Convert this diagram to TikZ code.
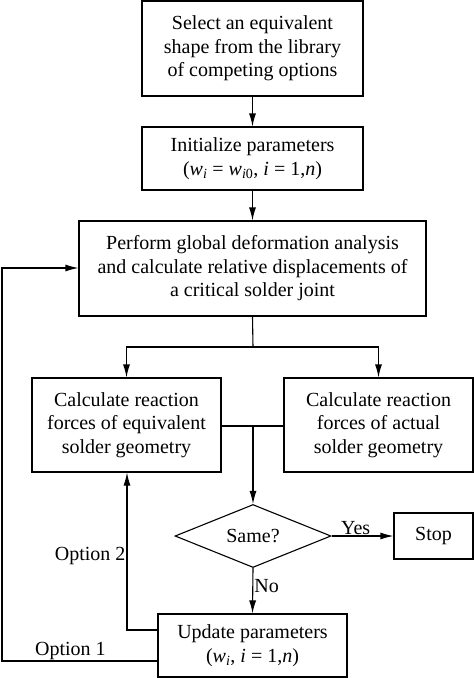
\documentclass[tikz,border=0pt]{standalone}
\usepackage{fontspec}
\setmainfont{Liberation Serif}
\usetikzlibrary{shapes.geometric,arrows.meta}
\newcommand{\vw}[1]{\textit{#1}}
\newcommand{\vsub}[1]{\textsubscript{#1}}
\begin{document}
\begin{tikzpicture}[x=1pt,y=-1pt,
  every node/.style={font=\fontsize{20}{23.5}\selectfont},
  box/.style={draw,line width=1.1pt,align=center,inner sep=0pt},
  conn/.style={line width=1.1pt},
  arr/.style={conn,-{Latex[length=13pt,width=7pt]}},
  lbl/.style={inner sep=1pt}]
\useasboundingbox (0,0) rectangle (474,678);
\node[box,minimum width=221,minimum height=95] (sel) at (252.5,48.5)
  {Select an equivalent\\shape from the library\\of competing options};
\node[box,minimum width=221,minimum height=63] (init) at (252.5,158.5)
  {Initialize parameters\\(\vw{w}\vsub{\vw{i}} = \vw{w}\vsub{\vw{i}0}, \vw{i} = 1,\vw{n})};
\node[box,minimum width=347,minimum height=95] (glob) at (252.5,268.5)
  {Perform global deformation analysis\\and calculate relative displacements of\\a critical solder joint};
\node[box,minimum width=189,minimum height=94] (eqv) at (126.5,425)
  {Calculate reaction\\forces of equivalent\\solder geometry};
\node[box,minimum width=189,minimum height=94] (act) at (378.5,425)
  {Calculate reaction\\forces of actual\\solder geometry};
\node[draw,line width=1.1pt,diamond,aspect=2.48,minimum width=156,minimum height=63,inner sep=0pt] (same) at (253,536) {Same?};
\node[box,minimum width=79,minimum height=46] (stop) at (433.5,536) {Stop};
\node[box,minimum width=189,minimum height=63] (upd) at (252.5,645.5)
  {Update parameters\\(\vw{w}\vsub{\vw{i}}, \vw{i} = 1,\vw{n})};
\coordinate (split) at (253,347);
\coordinate (join) at (253,426);
\coordinate (o2) at (127,630);
\coordinate (o1) at (2,661);
\coordinate (o1t) at (2,268);
\draw[arr] (sel.south) -- (init.north);
\draw[arr] (init.south) -- (glob.north);
\draw[conn] (glob.south) -- (split);
\draw[arr] (split) -| (eqv.north);
\draw[arr] (split) -| (act.north);
\draw[conn] (eqv.east |- join) -- (act.west |- join);
\draw[arr] (join) -- (same.north);
\draw[arr] (same.east) -- node[lbl,above,pos=0.39] {Yes} (stop.west);
\draw[arr] (same.south) -- node[lbl,right,pos=0.4] {No} (upd.north);
\draw[arr] (upd.west |- o2) -- (o2) -- node[lbl,left,pos=0.47] {Option 2} (eqv.south -| o2);
\draw[arr] (upd.west |- o1) -- node[lbl,above,pos=0.56] {Option 1} (o1) -- (o1t) -- (glob.west |- o1t);
\end{tikzpicture}
\end{document}
